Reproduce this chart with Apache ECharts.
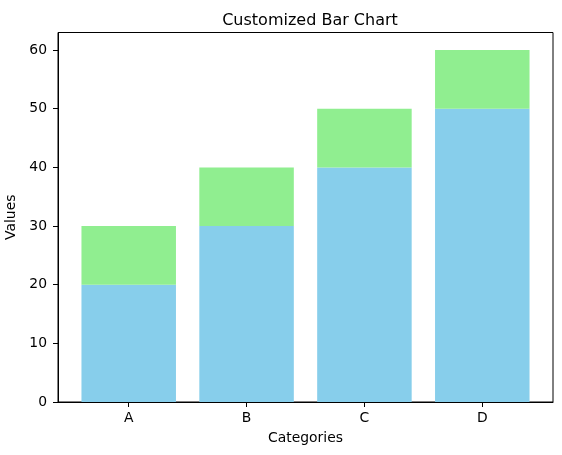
<!DOCTYPE html>
<html>
<head>
<meta charset="utf-8">
<script src="https://cdn.jsdelivr.net/npm/echarts@6/dist/echarts.min.js"></script>
<style>
  html, body { margin: 0; padding: 0; background: #fff; }
  #chart { width: 562px; height: 455px; }
</style>
</head>
<body>
<div id="chart"></div>
<script>
// data
const categories = ['A', 'B', 'C', 'D'];
const baseValues = [20, 30, 40, 50];
const topValues = [10, 10, 10, 10];
const yTicks = [0, 10, 20, 30, 40, 50, 60];

const font = 'DejaVu Sans';
const chart = echarts.init(document.getElementById('chart'));

// bars sit on a numeric x axis so the side margins match matplotlib.
// value goes first so the stack is done on y, not on x
const toPoints = arr => arr.map((v, i) => [v, i]);

const option = {
  animation: false,
  title: {
    text: 'Customized Bar Chart',
    left: 305,
    top: 8,
    textAlign: 'center',
    textStyle: { fontFamily: font, fontSize: 16, fontWeight: 'normal', color: '#000' },
  },
  grid: {
    left: 58, right: 9, top: 32.5, bottom: 53,
    outerBoundsContain: 'axisLabel',
    show: true, borderColor: '#000', borderWidth: 1,
  },
  xAxis: {
    type: 'value',
    min: -0.6,
    max: 3.6,
    name: 'Categories',
    nameLocation: 'middle',
    nameGap: 29,
    nameTextStyle: { fontFamily: font, fontSize: 13.9, color: '#000' },
    axisLine: { show: true, onZero: false, lineStyle: { color: '#000', width: 1 } },
    axisTick: { show: true, length: 5, customValues: [0, 1, 2, 3], lineStyle: { color: '#000' } },
    axisLabel: {
      customValues: [0, 1, 2, 3],
      margin: 9,
      fontFamily: font, fontSize: 13.9, color: '#000',
      formatter: v => categories[Math.round(v)] || '',
    },
    splitLine: { show: false },
  },
  yAxis: {
    type: 'value',
    min: 0,
    max: 63,
    name: 'Values',
    nameLocation: 'middle',
    nameRotate: 90,
    nameGap: 37,
    nameTextStyle: { fontFamily: font, fontSize: 13.9, color: '#000' },
    axisLine: { show: true, onZero: false, lineStyle: { color: '#000', width: 1 } },
    axisTick: { show: true, length: 5, customValues: yTicks, lineStyle: { color: '#000' } },
    axisLabel: {
      customValues: yTicks,
      margin: 11,
      fontFamily: font, fontSize: 13.9, color: '#000',
    },
    splitLine: { show: false },
  },
  series: [
    {
      type: 'bar',
      stack: 'total',
      data: toPoints(baseValues),
      encode: { x: 1, y: 0 },
      barWidth: 94.5,
      itemStyle: { color: '#87CEEB' },
    },
    {
      type: 'bar',
      stack: 'total',
      data: toPoints(topValues),
      encode: { x: 1, y: 0 },
      barWidth: 94.5,
      itemStyle: { color: '#90EE90' },
    },
  ],
};

chart.setOption(option);
</script>
</body>
</html>
